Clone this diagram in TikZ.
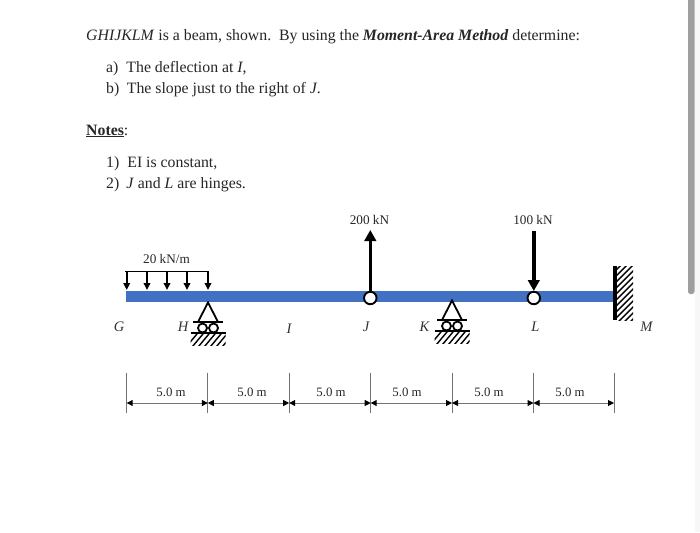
\documentclass[tikz,border=0pt]{standalone}
\usepackage{fontspec}
\setmainfont{Liberation Serif}
\usetikzlibrary{arrows.meta}
\definecolor{beam}{HTML}{4270C2}
\tikzset{
 x=1pt,y=-1pt,
 txt/.style={anchor=base west,inner sep=0pt,font=\fontsize{15.8}{18}\selectfont,text=black!85},
 lab/.style={anchor=base,inner sep=0pt,font=\fontsize{13.2}{15}\selectfont,text=black!85},
 dimlab/.style={anchor=base,inner sep=0pt,font=\fontsize{12.8}{15}\selectfont,text=black!85},
 let/.style={anchor=base,inner sep=0pt,font=\fontsize{14.5}{16}\selectfont\itshape,text=black!80},
 load/.style={line width=3.6pt,-{Triangle[length=11pt,width=11.5pt]}},
 udl/.style={line width=1.8pt,-{Triangle[length=7pt,width=6.5pt]}},
 hinge/.style={circle,draw=black,fill=white,line width=1.9pt,minimum size=12.5pt,inner sep=0pt},
 dimtick/.style={draw=black!55,line width=1pt},
 dimline/.style={draw=black!55,line width=1pt,{Triangle[length=6pt,width=6pt,black]}-{Triangle[length=6pt,width=6pt,black]}},
 suppline/.style={line width=1.8pt},
 roller/.style={circle,draw=black,line width=1.8pt,minimum size=9pt,inner sep=0pt},
 hatchline/.style={line width=1.4pt},
}
\begin{document}
\begin{tikzpicture}
\useasboundingbox (0,0) rectangle (700,532);
\fill[white] (0,0) rectangle (700,532);
% scrollbar
\fill[black!3] (695,0) rectangle (700,532);
\fill[black!38,rounded corners=2.5pt] (688,-5) rectangle (694.5,294);
% text
\node[txt] (t1) at (86,40.5) {\textit{GHIJKLM} is a beam, shown.\ \ By using the \textbf{\textit{Moment-Area Method}} determine:};
\node[txt] (t2) at (106,72.5) {a)\hspace{8pt}The deflection at \textit{I},};
\node[txt] (t3) at (106,93) {b)\hspace{7.5pt}The slope just to the right of \textit{J}.};
\node[txt] (t4) at (86,135) {\underline{\textbf{Notes}}:};
\node[txt] (t5) at (106,167) {1)\hspace{8pt}EI is constant,};
\node[txt] (t6) at (106,188) {2)\hspace{7pt}\textit{J} and \textit{L} are hinges.};
% beam
\fill[beam] (126,291) rectangle (615,302);
% coordinates
\coordinate (J) at (370.3,298);
\coordinate (L) at (533.8,298);
% wall
\begin{scope}
 \clip (615,266) rectangle (633,320);
 \foreach \k in {0,...,13}{
  \draw[hatchline] (612,262+\k*6) -- (636,238+\k*6);
 }
\end{scope}
\draw[line width=3.6pt] (615,266) -- (615,320);
% udl
\draw[line width=1pt] (125,271) -- (209,271);
\foreach \i/\xx in {a/126.7,b/147,c/167,d/187,e/208}{
 \coordinate (u\i) at (\xx,271);
 \coordinate (v\i) at (\xx,290);
 \draw[udl] (u\i) -- (v\i);
}
\node[lab] (q) at (166.5,263.5) {20 kN/m};
% point loads
\coordinate (Pb) at (370.3,230);
\coordinate (Pa) at (370.3,293);
\coordinate (Qt) at (533.8,231);
\coordinate (Qb) at (533.8,291);
\draw[load] (Pa) -- (Pb);
\draw[load] (Qt) -- (Qb);
\node[hinge] (hJ) at (J) {};
\node[hinge] (hL) at (L) {};
\node[lab] (P) at (369.5,224) {200 kN};
\node[lab] (Q) at (533,224) {100 kN};
% supports
\foreach \n/\xx/\dy in {h/208/1.5,k/452/-0.5}{
 \begin{scope}[shift={(\xx,\dy)}]
 \draw[suppline,line join=miter] (0,301) -- (-10,320.5) -- (10,320.5) -- cycle;
 \draw[suppline] (-15,320.8) -- (15,320.8);
 \node[roller] (\n1) at (-5.5,326.5) {};
 \node[roller] (\n2) at (5.5,326.5) {};
 \draw[suppline] (-17.5,331.5) -- (17.5,331.5);
 \begin{scope}
  \clip (-17.5,331.5) rectangle (17.5,344);
  \foreach \k in {0,...,8}{
   \draw[hatchline] (-24+\k*6,348) -- (-9+\k*6,330);
  }
 \end{scope}
 \end{scope}
}
% letters
\node[let] (lG) at (119,331) {G};
\node[let] (lH) at (183,331) {H};
\node[let] (lI) at (289,333) {I};
\node[let] (lJ) at (366,331) {J};
\node[let] (lK) at (424.5,331) {K};
\node[let] (lL) at (535.5,331) {L};
\node[let] (lM) at (646.5,331) {M};
% dims
\foreach \n/\xx in {0/126.7,1/207.8,2/289.2,3/370.7,4/452,5/533.5,6/614}{
 \coordinate (d\n) at (\xx,403);
 \draw[dimtick] (\xx,372.5) -- (\xx,413);
}
\foreach \a/\b in {0/1,1/2,2/3,3/4,4/5,5/6}{
 \draw[dimline] (d\a) -- (d\b);
}
\foreach \n/\xx in {a/171,b/252,c/331,d/407,e/489,f/570}{
 \node[dimlab] (m\n) at (\xx,396) {5.0 m};
}
\end{tikzpicture}
\end{document}
